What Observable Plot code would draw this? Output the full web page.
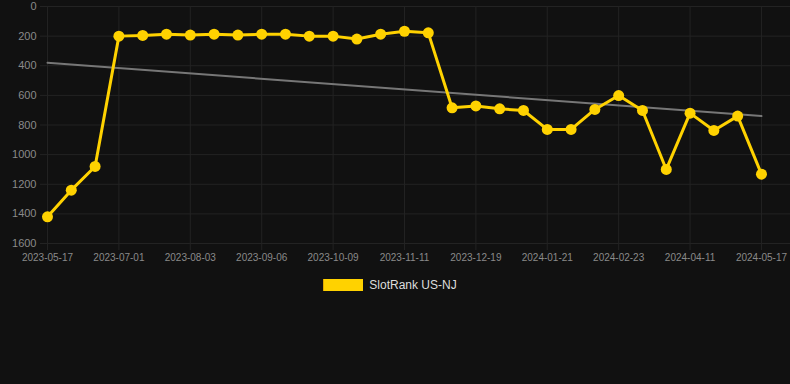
<!DOCTYPE html>
<html>
<head>
<meta charset="utf-8">
<script src="https://cdn.jsdelivr.net/npm/d3@7"></script>
<script src="https://cdn.jsdelivr.net/npm/@observablehq/plot@0.6"></script>
<style>
  html, body { margin: 0; padding: 0; background: #111111; }
  body { width: 790px; height: 384px; overflow: hidden; font-family: Arial, "Liberation Sans", Helvetica, sans-serif; }
  #legend { display: flex; justify-content: center; align-items: center; margin-top: 8px; margin-left: -10px; color: #dddddd; font-size: 12px; }
  #legend .sw { width: 40px; height: 12px; background: #FFD200; border-left: 1px solid #e0a800; box-sizing: border-box; margin-right: 6px; }
</style>
</head>
<body>
<div id="chart"></div>
<div id="legend"><span class="sw"></span><span>SlotRank US-NJ</span></div>
<script>
const seriesName = "SlotRank US-NJ";
const tickLabels = ["2023-05-17","2023-07-01","2023-08-03","2023-09-06","2023-10-09","2023-11-11","2023-12-19","2024-01-21","2024-02-23","2024-04-11","2024-05-17"];
const rankValues = [1420,1240,1080,200,195,187,193,187,193,187,187,200,200,220,187,167,178,684,671,691,702,830,830,695,601,702,1100,720,837,740,1132];
const yTicks = [0,200,400,600,800,1000,1200,1400,1600];

const data = rankValues.map((v, i) => ({i, v}));
const tickIdx = tickLabels.map((_, k) => k * 3);

const gridColor = "#232323";
const textColor = "#8a8a8a";

const chart = Plot.plot({
  width: 790,
  height: 270,
  marginLeft: 40,
  marginRight: 0,
  marginTop: 6,
  marginBottom: 27,
  style: { background: "#111111", fontFamily: "Arial, 'Liberation Sans', sans-serif" },
  x: { domain: [-0.294, 31.22], label: null },
  y: { domain: [0, 1600], reverse: true, label: null },
  marks: [
    Plot.gridY(yTicks, { stroke: gridColor, strokeOpacity: 1 }),
    Plot.gridX(tickIdx, { stroke: gridColor, strokeOpacity: 1 }),
    Plot.axisY(yTicks, { tickSize: 0, tickPadding: 4, fontSize: 11, fill: textColor, label: null, tickFormat: (d) => String(d) }),
    Plot.axisX(tickIdx, { tickSize: 7, stroke: gridColor, strokeOpacity: 1, tickPadding: 3, fontSize: 10, fill: textColor, label: null, tickFormat: (d) => tickLabels[d / 3] }),
    Plot.linearRegressionY(data, { x: "i", y: "v", ci: 0, stroke: "#777777", strokeWidth: 2 }),
    Plot.line(data, { x: "i", y: "v", stroke: "#FFD200", strokeWidth: 3 }),
    Plot.dot(data, { x: "i", y: "v", r: 5.5, fill: "#FFD200", stroke: "none" })
  ]
});
document.getElementById("chart").appendChild(chart);
</script>
</body>
</html>
